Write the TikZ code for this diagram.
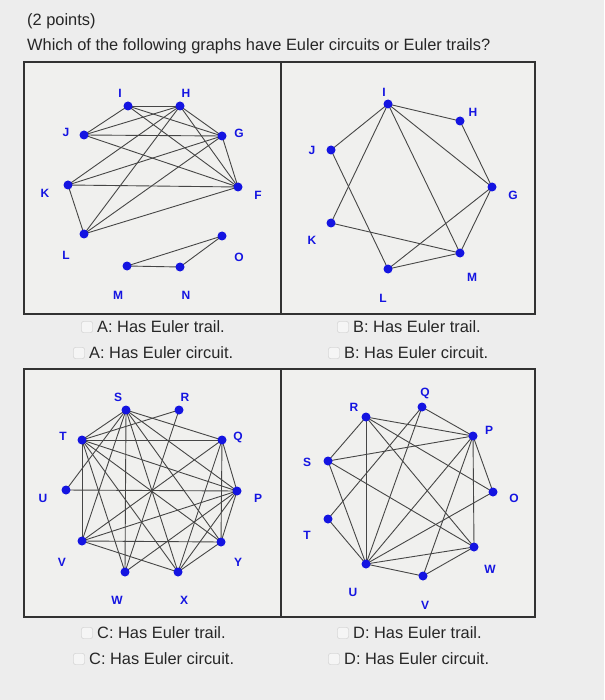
\documentclass[tikz,border=0pt]{standalone}
\usepackage{fontspec}
\setmainfont{Liberation Sans}
\begin{document}
\begin{tikzpicture}[x=1pt,y=-1pt,
  v/.style={circle,fill=vblue,inner sep=0pt,minimum size=9pt},
  lab/.style={text=vblue,font=\bfseries\fontsize{12}{13}\selectfont,inner sep=0pt},
  e/.style={draw=edgec,line width=0.9pt},
  panel/.style={draw=panelc,line width=1.2pt,fill=panelbg},
  txt/.style={anchor=west,font=\fontsize{16.4}{18}\selectfont,inner sep=0pt,text=black!85},
  cb/.style={draw=black!22,fill=black!4,rounded corners=2pt,minimum size=11pt,inner sep=0pt}]
\definecolor{vblue}{RGB}{20,20,225}
\definecolor{edgec}{RGB}{70,70,70}
\definecolor{panelc}{RGB}{50,50,50}
\definecolor{panelbg}{RGB}{240,240,238}
\fill[black!7] (0,0) rectangle (604,700);
\useasboundingbox (0,0) rectangle (604,700);
\node[txt] (t1) at (27,21) {(2 points)};
\node[txt] (t2) at (27,46) {Which of the following graphs have Euler circuits or Euler trails?};
\draw[panel] (24,62) rectangle (281,314);
\draw[panel] (281,62) rectangle (535,314);
\draw[panel] (24,369) rectangle (281,617);
\draw[panel] (281,369) rectangle (535,617);
% checkboxes
\node[cb] (c1) at (87,327) {}; \node[txt] (a1) at (97,327) {A: Has Euler trail.};
\node[cb] (c2) at (79,353) {}; \node[txt] (a2) at (89,353) {A: Has Euler circuit.};
\node[cb] (c3) at (343,327) {}; \node[txt] (b1) at (353,327) {B: Has Euler trail.};
\node[cb] (c4) at (334,353) {}; \node[txt] (b2) at (344,353) {B: Has Euler circuit.};
\node[cb] (c5) at (87,633) {}; \node[txt] (d1) at (97,633) {C: Has Euler trail.};
\node[cb] (c6) at (79,659) {}; \node[txt] (d2) at (89,659) {C: Has Euler circuit.};
\node[cb] (c7) at (343,633) {}; \node[txt] (f1) at (353,633) {D: Has Euler trail.};
\node[cb] (c8) at (334,659) {}; \node[txt] (f2) at (344,659) {D: Has Euler circuit.};
% Graph A
\coordinate (aI) at (128,106); \coordinate (aH) at (180,106); \coordinate (aJ) at (84,135);
\coordinate (aG) at (222,136); \coordinate (aK) at (68,185); \coordinate (aF) at (238,187);
\coordinate (aL) at (84,234); \coordinate (aO) at (222,236); \coordinate (aM) at (127,266);
\coordinate (aN) at (180,267);
\foreach \a/\b in {I/H,I/J,I/G,I/F,H/J,H/G,H/F,H/K,H/L,J/G,J/F,G/K,G/F,G/L,K/F,K/L,L/F,M/O,M/N,N/O}
  \draw[e] (a\a) -- (a\b);
\foreach \n in {I,H,J,G,K,F,L,O,M,N} \node[v] (nA\n) at (a\n) {};
\node[lab] (lAI) at (120,93) {I}; \node[lab] (lAH) at (186,93) {H};
\node[lab] (lAJ) at (66,132) {J}; \node[lab] (lAG) at (239,133) {G};
\node[lab] (lAK) at (45,193) {K}; \node[lab] (lAF) at (258,195) {F};
\node[lab] (lAL) at (66,255) {L}; \node[lab] (lAO) at (239,257) {O};
\node[lab] (lAM) at (118,295) {M}; \node[lab] (lAN) at (186,295) {N};
% Graph B
\coordinate (bI) at (388,104); \coordinate (bH) at (460,121); \coordinate (bJ) at (331,150);
\coordinate (bG) at (492,187); \coordinate (bK) at (331,223); \coordinate (bM) at (460,253);
\coordinate (bL) at (388,269);
\foreach \a/\b in {I/H,I/J,I/K,I/G,I/M,H/G,G/M,G/L,J/L,K/M,L/M}
  \draw[e] (b\a) -- (b\b);
\foreach \n in {I,H,J,G,K,M,L} \node[v] (nB\n) at (b\n) {};
\node[lab] (lBI) at (384,92) {I}; \node[lab] (lBH) at (473,112) {H};
\node[lab] (lBJ) at (312,150) {J}; \node[lab] (lBG) at (513,195) {G};
\node[lab] (lBK) at (312,240) {K}; \node[lab] (lBM) at (472,277) {M};
\node[lab] (lBL) at (383,298) {L};
% Graph C
\coordinate (cS) at (126,410); \coordinate (cR) at (179,410); \coordinate (cT) at (82,440);
\coordinate (cQ) at (222,440); \coordinate (cU) at (66,490); \coordinate (cP) at (237,491);
\coordinate (cV) at (82,541); \coordinate (cY) at (221,542); \coordinate (cW) at (125,572);
\coordinate (cX) at (178,572);
\foreach \a/\b in {S/T,S/U,S/Q,S/P,S/Y,S/X,S/W,S/V,R/T,R/W,T/Q,T/V,T/P,T/Y,T/X,T/W,
  Q/P,Q/Y,Q/V,Q/X,P/U,P/V,P/W,P/X,P/Y,V/Y,V/X,X/Y}
  \draw[e] (c\a) -- (c\b);
\foreach \n in {S,R,T,Q,U,P,V,Y,W,X} \node[v] (nC\n) at (c\n) {};
\node[lab] (lCS) at (118,397) {S}; \node[lab] (lCR) at (185,397) {R};
\node[lab] (lCT) at (63,436) {T}; \node[lab] (lCQ) at (238,437) {Q};
\node[lab] (lCU) at (43,498) {U}; \node[lab] (lCP) at (258,498) {P};
\node[lab] (lCV) at (62,562) {V}; \node[lab] (lCY) at (238,562) {Y};
\node[lab] (lCW) at (117,600) {W}; \node[lab] (lCX) at (184,600) {X};
% Graph D
\coordinate (dQ) at (422,407); \coordinate (dR) at (366,417); \coordinate (dP) at (473,436);
\coordinate (dS) at (328,461); \coordinate (dO) at (493,492); \coordinate (dT) at (328,519);
\coordinate (dW) at (474,547); \coordinate (dU) at (366,564); \coordinate (dV) at (423,576);
\foreach \a/\b in {R/S,R/U,R/P,R/O,R/W,Q/P,Q/T,Q/U,P/S,P/O,P/W,P/U,P/V,S/U,S/W,T/U,U/O,U/W,U/V,V/W}
  \draw[e] (d\a) -- (d\b);
\foreach \n in {Q,R,P,S,O,T,W,U,V} \node[v] (nD\n) at (d\n) {};
\node[lab] (lDQ) at (425,393) {Q}; \node[lab] (lDR) at (354,407) {R};
\node[lab] (lDP) at (489,430) {P}; \node[lab] (lDS) at (307,462) {S};
\node[lab] (lDO) at (514,498) {O}; \node[lab] (lDT) at (307,535) {T};
\node[lab] (lDW) at (490,569) {W}; \node[lab] (lDU) at (353,592) {U};
\node[lab] (lDV) at (425,605) {V};
\end{tikzpicture}
\end{document}
